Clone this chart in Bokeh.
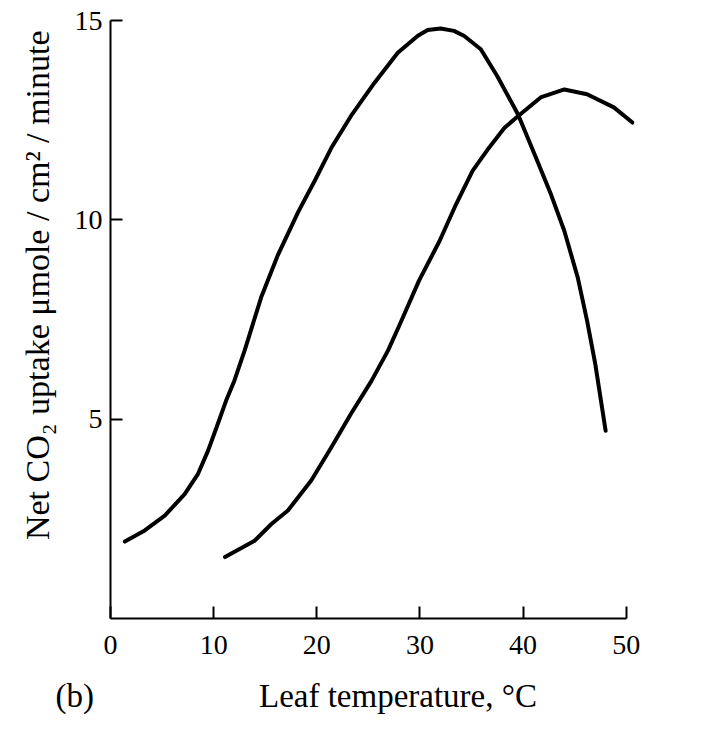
from bokeh.plotting import figure
from bokeh.models import FixedTicker, Range1d, Title
from bokeh.embed import file_html
from bokeh.resources import INLINE

# Curve A (lower-temperature optimum)
temp_a = [1.39, 3.32, 5.26, 7.19, 8.49, 9.46, 10.4, 11.2, 12.0, 13.0, 14.6, 16.2, 18.2, 19.8,
          21.4, 23.3, 25.6, 27.85, 29.8, 30.75, 32.0, 33.3, 34.3, 35.9, 37.5, 39.5, 41.1,
          42.7, 44.0, 45.3, 46.2, 47.0, 48.0]
uptake_a = [1.93, 2.21, 2.58, 3.12, 3.63, 4.21, 4.88, 5.46, 5.96, 6.72, 8.05, 9.1, 10.2, 10.98,
            11.8, 12.6, 13.44, 14.19, 14.62, 14.76, 14.8, 14.74, 14.61, 14.28, 13.6, 12.65, 11.65,
            10.64, 9.72, 8.55, 7.47, 6.38, 4.71]

# Curve B (higher-temperature optimum)
temp_b = [11.1, 13.97, 15.6, 17.2, 19.46, 21.4, 23.3, 25.3, 26.9, 28.0, 29.9, 31.9, 33.5,
          35.1, 36.7, 38.2, 39.5, 41.7, 44.0, 46.2, 48.8, 50.6]
uptake_b = [1.54, 1.95, 2.37, 2.71, 3.46, 4.29, 5.13, 5.96, 6.72, 7.35, 8.47, 9.47, 10.39,
            11.23, 11.81, 12.31, 12.6, 13.07, 13.27, 13.15, 12.82, 12.44]

x_ticks = [0, 10, 20, 30, 40, 50]
y_ticks = [5, 10, 15]

FONT = "Liberation Serif"

p = figure(width=708, height=732, output_backend="svg", toolbar_location=None,
           x_range=Range1d(0, 50.8), y_range=Range1d(0, 15),
           min_border_left=109, min_border_right=74, min_border_top=20, min_border_bottom=114)
p.outline_line_color = None
p.xgrid.visible = False
p.ygrid.visible = False
p.background_fill_color = "white"
p.border_fill_color = "white"

p.line(temp_a, uptake_a, line_color="black", line_width=4, line_cap="round", line_join="round")
p.line(temp_b, uptake_b, line_color="black", line_width=4, line_cap="round", line_join="round")

for ax, ticks, bounds in ((p.xaxis[0], x_ticks, (0, 50)), (p.yaxis[0], y_ticks, (0, 15))):
    ax.ticker = FixedTicker(ticks=ticks)
    ax.bounds = bounds
    ax.axis_line_color = "black"
    ax.axis_line_width = 2
    ax.major_tick_line_color = "black"
    ax.major_tick_line_width = 2
    ax.major_tick_in = 12
    ax.major_tick_out = 0
    ax.minor_tick_line_color = None
    ax.major_label_text_font = FONT
    ax.major_label_text_font_size = "28px"
    ax.major_label_text_color = "black"

p.xaxis[0].major_label_standoff = 17
p.yaxis[0].major_label_standoff = 8

NBSP = "\u00a0"
xlabel = Title(text="(b)" + NBSP * 20 + "Leaf temperature, \u00b0C", align="left", offset=-55,
               standoff=38, text_font=FONT, text_font_size="33px", text_font_style="normal",
               text_color="black")
p.add_layout(xlabel, "below")

ylabel = Title(text="Net CO\u2082 uptake \u03bcmole / cm\u00b2 / minute", align="right", offset=10,
               standoff=32, text_font=FONT, text_font_size="34px",
               text_font_style="normal", text_color="black")
p.add_layout(ylabel, "left")

open("out.html", "w").write(file_html(p, INLINE))
